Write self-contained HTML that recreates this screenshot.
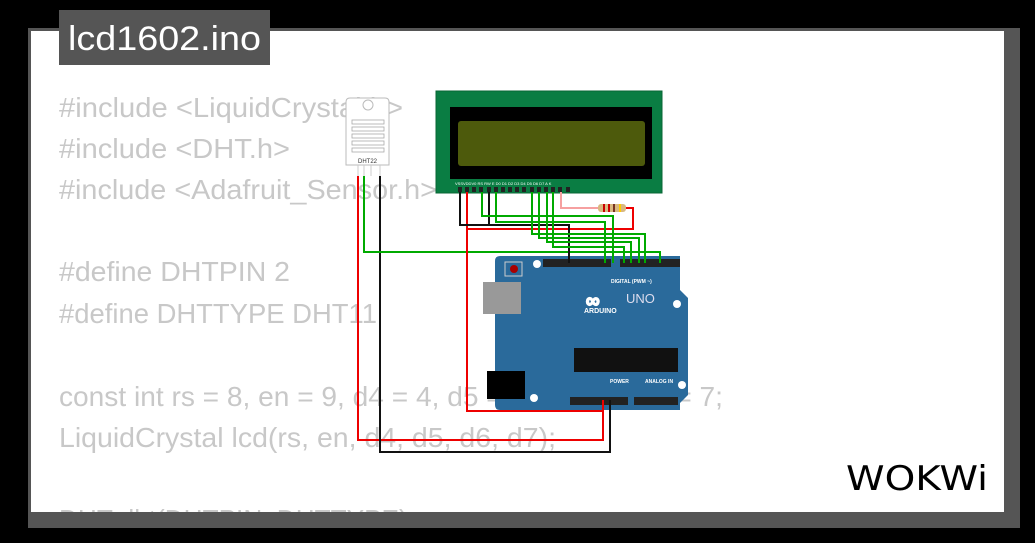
<!DOCTYPE html>
<html><head><meta charset="utf-8"><style>
html,body{margin:0;padding:0;background:#000;width:1035px;height:543px;overflow:hidden}
</style></head><body>
<svg width="1035" height="543" viewBox="0 0 1035 543" xmlns="http://www.w3.org/2000/svg" font-family="Liberation Sans, sans-serif">
<rect x="0" y="0" width="1035" height="543" fill="#000"/>
<rect x="28" y="28" width="992" height="500" fill="#555"/>
<rect x="31" y="31" width="973" height="481" fill="#fff"/>
<defs><clipPath id="c"><rect x="31" y="31" width="973" height="481"/></clipPath></defs>
<g clip-path="url(#c)" fill="#c8c8c8" font-size="28">
<text x="59" y="117" textLength="344" lengthAdjust="spacingAndGlyphs">#include &lt;LiquidCrystal.h&gt;</text>
<text x="59" y="158" textLength="231" lengthAdjust="spacingAndGlyphs">#include &lt;DHT.h&gt;</text>
<text x="59" y="199" textLength="378" lengthAdjust="spacingAndGlyphs">#include &lt;Adafruit_Sensor.h&gt;</text>
<text x="59" y="281" textLength="231" lengthAdjust="spacingAndGlyphs">#define DHTPIN 2</text>
<text x="59" y="323" textLength="318" lengthAdjust="spacingAndGlyphs">#define DHTTYPE DHT11</text>
<text x="59" y="406" textLength="664" lengthAdjust="spacingAndGlyphs">const int rs = 8, en = 9, d4 = 4, d5 = 5, d6 = 6, d7 = 7;</text>
<text x="59" y="447" textLength="497" lengthAdjust="spacingAndGlyphs">LiquidCrystal lcd(rs, en, d4, d5, d6, d7);</text>
<text x="59" y="529" textLength="356" lengthAdjust="spacingAndGlyphs">DHT dht(DHTPIN, DHTTYPE);</text>
</g>
<rect x="59" y="10" width="211" height="55" fill="#555"/>
<text x="68" y="50" font-size="34" fill="#fff" textLength="193" lengthAdjust="spacingAndGlyphs">lcd1602.ino</text>

<!-- DHT22 -->
<g>
<path d="M346,102 Q346,98 350,98 L385,98 Q389,98 389,102 L389,165 L346,165 Z" fill="#fff" stroke="#bbb"/>
<circle cx="368" cy="105" r="5" fill="#fff" stroke="#bbb"/>
<g fill="none" stroke="#aaa" stroke-width="0.8">
<rect x="352" y="120" width="32" height="4"/><rect x="352" y="127" width="32" height="4"/><rect x="352" y="134" width="32" height="4"/><rect x="352" y="141" width="32" height="4"/><rect x="352" y="148" width="32" height="4"/>
</g>
<text x="358" y="163" font-size="6" fill="#333">DHT22</text>
<line x1="358" y1="165" x2="358" y2="176" stroke="#ccc"/>
<line x1="364" y1="165" x2="364" y2="176" stroke="#ccc"/>
<line x1="371" y1="165" x2="371" y2="176" stroke="#ccc"/>
<line x1="380" y1="165" x2="380" y2="176" stroke="#ccc"/>
</g>

<!-- LCD -->
<rect x="436" y="91" width="226" height="102" fill="#0a7d43" stroke="#086634"/>
<rect x="450" y="107" width="202" height="72" fill="#000"/>
<rect x="458" y="121" width="187" height="45" rx="3" fill="#4d5a0c"/>
<text x="455" y="185" font-size="4" fill="#fff">VSSVDDV0 RS RW E  D0 D1 D2 D3 D4 D5 D6 D7  A   K</text>
<g fill="#222">
<rect x="458" y="187" width="4" height="5"/><rect x="465" y="187" width="4" height="5"/><rect x="472" y="187" width="4" height="5"/><rect x="479" y="187" width="4" height="5"/><rect x="487" y="187" width="4" height="5"/><rect x="494" y="187" width="4" height="5"/><rect x="501" y="187" width="4" height="5"/><rect x="508" y="187" width="4" height="5"/><rect x="515" y="187" width="4" height="5"/><rect x="522" y="187" width="4" height="5"/><rect x="530" y="187" width="4" height="5"/><rect x="537" y="187" width="4" height="5"/><rect x="544" y="187" width="4" height="5"/><rect x="551" y="187" width="4" height="5"/><rect x="558" y="187" width="4" height="5"/><rect x="566" y="187" width="4" height="5"/>
</g>

<!-- Arduino -->
<path d="M500,256 L680,256 L680,290 L688,298 L688,395 L680,403 L680,410 L500,410 Q495,410 495,405 L495,261 Q495,256 500,256 Z" fill="#2a6a9b"/>
<rect x="543" y="259" width="68" height="8" fill="#222"/>
<rect x="620" y="259" width="60" height="8" fill="#222"/>
<rect x="570" y="397" width="58" height="8" fill="#222"/>
<rect x="634" y="397" width="44" height="8" fill="#222"/>
<rect x="483" y="282" width="38" height="32" fill="#999"/>
<rect x="487" y="371" width="38" height="28" fill="#000"/>
<rect x="574" y="348" width="104" height="24" fill="#111"/>
<circle cx="514" cy="269" r="4" fill="#a00"/>
<rect x="505" y="262" width="17" height="14" fill="none" stroke="#ccc" stroke-width="1"/>
<circle cx="537" cy="264" r="4" fill="#fff"/>
<circle cx="682" cy="385" r="4" fill="#fff"/>
<circle cx="534" cy="398" r="4" fill="#fff"/>
<circle cx="677" cy="304" r="4" fill="#fff"/>
<text x="586" y="307" font-size="19" fill="none" stroke="#fff" stroke-width="2">∞</text>
<text x="626" y="303" font-size="13" fill="#dde">UNO</text>
<text x="584" y="313" font-size="7" font-weight="bold" fill="#fff">ARDUINO</text>
<text x="611" y="283" font-size="5" font-weight="bold" fill="#fff">DIGITAL (PWM ~)</text>
<text x="610" y="383" font-size="5" font-weight="bold" fill="#fff">POWER</text>
<text x="645" y="383" font-size="5" font-weight="bold" fill="#fff">ANALOG IN</text>

<!-- wires -->
<g fill="none" stroke-width="2">
<path d="M358,176 V440 H603 V400" stroke="#e00"/>
<path d="M380,176 V452 H610 V400" stroke="#111"/>
<path d="M364,176 V252 H660 V263" stroke="#0a0"/>
<path d="M467,192 V229 H633 V208 H625" stroke="#e00"/>
<path d="M467,229 V411 H603" stroke="#e00"/>
<path d="M460,192 V225 H569 V263" stroke="#111"/>
<path d="M489,192 V225" stroke="#111"/>
<path d="M482,192 V216 H613 V263" stroke="#0a0"/>
<path d="M496,192 V222 H605 V263" stroke="#0a0"/>
<path d="M532,192 V234 H645 V263" stroke="#0a0"/>
<path d="M539,192 V238 H639 V263" stroke="#0a0"/>
<path d="M547,192 V242 H631 V263" stroke="#0a0"/>
<path d="M553,192 V247 H624 V263" stroke="#0a0"/>
<path d="M561,192 V208 H600" stroke="#f6a0a0"/>
</g>
<rect x="598" y="204" width="28" height="8" rx="3" fill="#d9b880"/>
<rect x="603" y="204" width="2" height="8" fill="#c00"/><rect x="608" y="204" width="2" height="8" fill="#c00"/><rect x="613" y="204" width="2" height="8" fill="#732"/><rect x="619" y="204" width="2" height="8" fill="#fc0"/>

<!-- wokwi -->
<text x="846" y="490" font-size="34" fill="#000" font-family="DejaVu Sans, sans-serif" textLength="142" lengthAdjust="spacingAndGlyphs">WOKWi</text>
</svg>
</body></html>
